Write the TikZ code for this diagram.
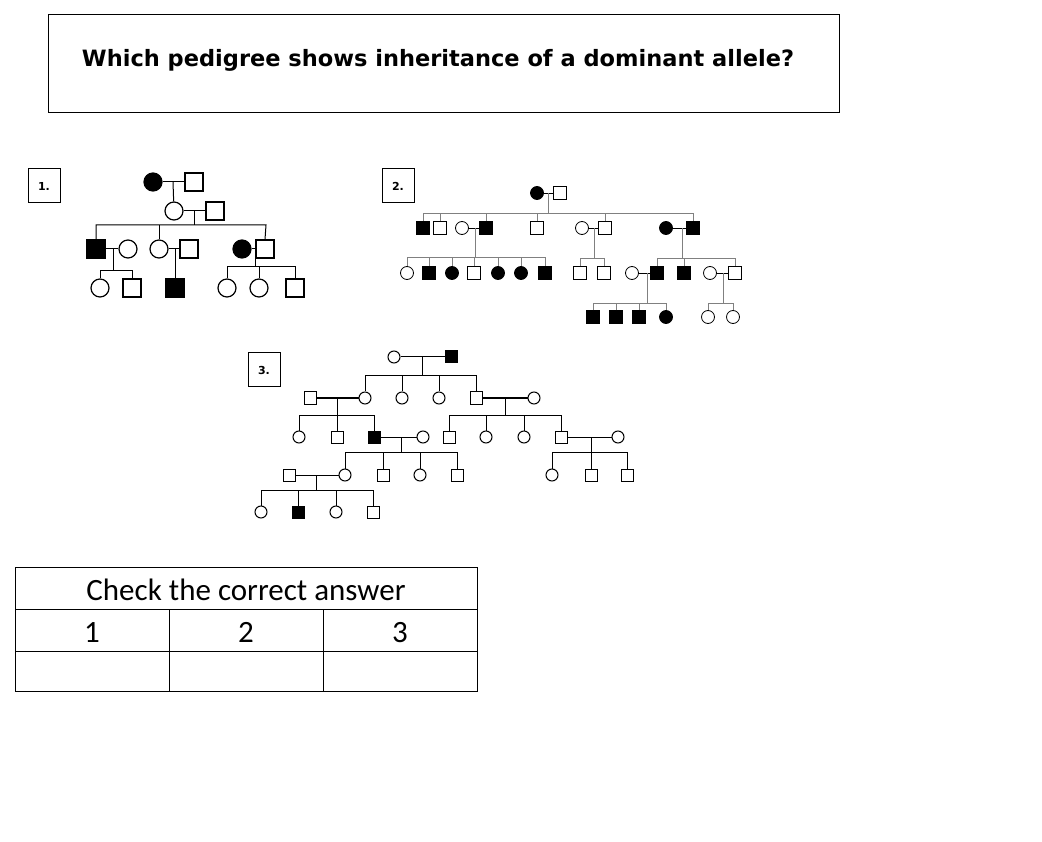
\documentclass[tikz,border=0pt]{standalone}
\usepackage{fontspec}
\setmainfont{Carlito}
\newfontfamily\titlefont{DejaVu Sans}
\begin{document}
\begin{tikzpicture}[x=1pt,y=-1pt,line width=1.2pt,
  fo/.style={circle,draw,fill=white,inner sep=0pt,minimum size=\ps},
  ff/.style={circle,draw,fill=black,inner sep=0pt,minimum size=\ps},
  mo/.style={rectangle,draw,fill=white,inner sep=0pt,minimum size=\ps},
  mf/.style={rectangle,draw,fill=black,inner sep=0pt,minimum size=\ps},
  tab/.style={font=\fontsize{31}{36}\selectfont,anchor=base},
  lab/.style={draw,line width=1pt,minimum width=32pt,minimum height=34pt,font=\titlefont\bfseries\fontsize{11}{13}\selectfont}]
\useasboundingbox (0,0) rectangle (1042,842);
\node[draw,line width=1pt,minimum width=791pt,minimum height=98pt] (title) at (443.5,64) {};
\node[font=\titlefont\bfseries\fontsize{22.5}{26}\selectfont] (tt) at (438,60) {Which pedigree shows inheritance of a dominant allele?};
% ---------- Pedigree 1
\def\ps{18pt}
\node[lab] (l1) at (44,186) {1.};
\node[ff] (a1) at (153,182) {}; \node[mo] (a2) at (194,182) {};
\node[fo] (b1) at (174,211) {}; \node[mo] (b2) at (215,211) {};
\node[mf] (c1) at (96,249) {}; \node[fo] (c2) at (128,249) {};
\node[fo] (c3) at (159,249) {}; \node[mo] (c4) at (189,249) {};
\node[ff] (c5) at (242,249) {}; \node[mo] (c6) at (265,249) {};
\node[fo] (d1) at (100,288) {}; \node[mo] (d2) at (132,288) {};
\node[mf] (d3) at (175,288) {};
\node[fo] (d4) at (227,288) {}; \node[fo] (d5) at (259,288) {}; \node[mo] (d6) at (295,288) {};
\begin{scope}[line width=1pt]
\draw (a1)--(a2); \draw (173,182)--(b1);
\draw (b1)--(b2); \draw (194,211)--(194,225);
\draw (c1.north)--(96,225)--(266,225)--(c6.north); \draw (c3.north)--(159,225);
\draw (c1)--(c2); \draw (113,249)--(113,271); \draw (d1.north)--(100,271)--(132,271)--(d2.north);
\draw (c3)--(c4); \draw (175,249)--(d3);
\draw (c5)--(c6); \draw (255,249)--(255,267); \draw (d4.north)--(227,267)--(295,267)--(d6.north); \draw (d5.north)--(259,267);
\end{scope}
% ---------- Pedigree 2
\def\ps{13pt}
\node[lab] (l2) at (398,186) {2.};
\begin{scope}[line width=0.8pt]
\node[ff] (p1) at (537,193) {}; \node[mo] (p2) at (560,193) {};
\node[mf] (q1) at (423,228) {}; \node[mo] (q2) at (440,228) {}; \node[fo] (q3) at (462,228) {};
\node[mf] (q4) at (486,228) {}; \node[mo] (q5) at (537,228) {}; \node[fo] (q6) at (582,228) {};
\node[mo] (q7) at (605,228) {}; \node[ff] (q8) at (666,228) {}; \node[mf] (q9) at (693,228) {};
\node[fo] (r1) at (407,273) {}; \node[mf] (r2) at (429,273) {}; \node[ff] (r3) at (452,273) {};
\node[mo] (r4) at (474,273) {}; \node[ff] (r5) at (498,273) {}; \node[ff] (r6) at (521,273) {};
\node[mf] (r7) at (545,273) {};
\node[mo] (r8) at (580,273) {}; \node[mo] (r9) at (604,273) {};
\node[fo] (r10) at (632,273) {}; \node[mf] (r11) at (657,273) {}; \node[mf] (r12) at (684,273) {};
\node[fo] (r13) at (710,273) {}; \node[mo] (r14) at (735,273) {};
\node[mf] (s1) at (593,317) {}; \node[mf] (s2) at (616,317) {}; \node[mf] (s3) at (639,317) {};
\node[ff] (s4) at (666,317) {};
\node[fo] (s5) at (708,317) {}; \node[fo] (s6) at (733,317) {};
\draw (p1)--(p2); \draw[gray] (548,193)--(548,213);
\draw[gray] (q1.north)--(423,213)--(693,213)--(q9.north);
\foreach \n/\x in {q2/440,q4/486,q5/537,q7/605} \draw[gray] (\n.north)--(\x,213);
\draw (q3)--(q4); \draw[gray] (475,228)--(475,257);
\draw[gray] (r1.north)--(407,257)--(545,257)--(r7.north);
\foreach \n/\x in {r2/429,r3/452,r4/474,r5/498,r6/521} \draw[gray] (\n.north)--(\x,257);
\draw (q6)--(q7); \draw[gray] (594,228)--(594,258); \draw[gray] (r8.north)--(580,258)--(604,258)--(r9.north);
\draw (q8)--(q9); \draw[gray] (682,228)--(682,258);
\draw[gray] (r11.north)--(657,258)--(735,258)--(r14.north);
\draw[gray] (r12.north)--(684,258);
\draw (r10)--(r11); \draw[gray] (647,273)--(647,303);
\draw[gray] (s1.north)--(593,303)--(666,303)--(s4.north);
\draw[gray] (s2.north)--(616,303); \draw[gray] (s3.north)--(639,303);
\draw (r13)--(r14); \draw[gray] (723,273)--(723,303); \draw[gray] (s5.north)--(708,303)--(733,303)--(s6.north);
\end{scope}
% ---------- Pedigree 3
\def\ps{12pt}
\node[lab] (l3) at (264,370) {3.};
\begin{scope}[line width=1pt]
\node[fo] (t1) at (394,357) {}; \node[mf] (t2) at (451,357) {};
\node[mo] (u1) at (310,398) {}; \node[fo] (u2) at (365,398) {}; \node[fo] (u3) at (402,398) {};
\node[fo] (u4) at (439,398) {}; \node[mo] (u5) at (476,398) {}; \node[fo] (u6) at (534,398) {};
\node[fo] (v1) at (299,437) {}; \node[mo] (v2) at (337,437) {}; \node[mf] (v3) at (374,437) {};
\node[fo] (v4) at (423,437) {}; \node[mo] (v5) at (449,437) {}; \node[fo] (v6) at (486,437) {};
\node[fo] (v7) at (524,437) {}; \node[mo] (v8) at (561,437) {}; \node[fo] (v9) at (618,437) {};
\node[mo] (w1) at (289,475) {}; \node[fo] (w2) at (345,475) {}; \node[mo] (w3) at (383,475) {};
\node[fo] (w4) at (420,475) {}; \node[mo] (w5) at (457,475) {};
\node[fo] (w6) at (552,475) {}; \node[mo] (w7) at (591,475) {}; \node[mo] (w8) at (627,475) {};
\node[fo] (x1) at (261,512) {}; \node[mf] (x2) at (298,512) {}; \node[fo] (x3) at (336,512) {};
\node[mo] (x4) at (373,512) {};
\draw (t1)--(t2); \draw (422,357)--(422,376);
\draw (u2.north)--(365,376)--(476,376)--(u5.north); \draw (u3.north)--(402,376); \draw (u4.north)--(439,376);
\draw (u1)--(u2); \draw (337,398)--(337,415); \draw (v1.north)--(299,415)--(374,415)--(v3.north); \draw (v2.north)--(337,415);
\draw (u5)--(u6); \draw (505,398)--(505,415); \draw (v5.north)--(449,415)--(561,415)--(v8.north);
\draw (v6.north)--(486,415); \draw (v7.north)--(524,415);
\draw (v3)--(v4); \draw (401,437)--(401,452); \draw (w2.north)--(345,452)--(457,452)--(w5.north);
\draw (w3.north)--(383,452); \draw (w4.north)--(420,452);
\draw (v8)--(v9); \draw (591,437)--(w7.north); \draw (w6.north)--(552,452)--(627,452)--(w8.north);
\draw (w1)--(w2); \draw (316,475)--(316,490); \draw (x1.north)--(261,490)--(373,490)--(x4.north);
\draw (x2.north)--(298,490); \draw (x3.north)--(336,490);
\end{scope}
% ---------- table
\begin{scope}[line width=1pt]
\draw (15,567) rectangle (477,691); \draw (15,609)--(477,609); \draw (15,651)--(477,651);
\draw (169,609)--(169,691); \draw (323,609)--(323,691);
\end{scope}
\node[tab] (th) at (246,600) {Check the correct answer};
\node[tab] (h1) at (92,642) {1};
\node[tab] (h2) at (246,642) {2};
\node[tab] (h3) at (400,642) {3};
\end{tikzpicture}
\end{document}
